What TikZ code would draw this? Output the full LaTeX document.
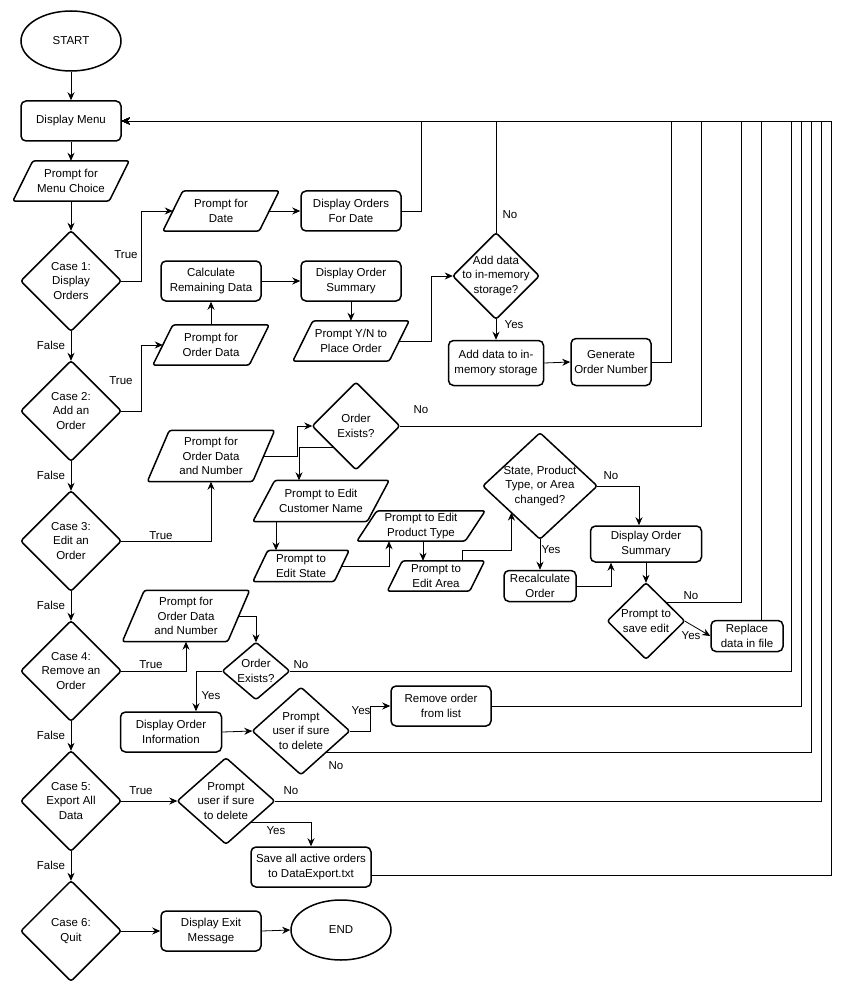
\documentclass[tikz,border=0pt]{standalone}
\usepackage{fontspec}
\setmainfont{Liberation Sans}
\usetikzlibrary{shapes.geometric,arrows.meta,calc}
\newcommand\dfont{\fontsize{11.5}{14.5}\selectfont}
\tikzset{
 base/.style={font=\dfont, align=center, inner sep=0pt},
 box/.style={base, draw, line width=1.5pt, rounded corners=5pt},
 ell/.style={base, draw, ellipse, line width=1.5pt, minimum width=100pt, minimum height=60pt},
 hid/.style={base},
 sh/.style={line width=1.5pt, line join=round, rounded corners=2.5pt},
 con/.style={line width=0.8pt,-{Stealth[length=8pt,width=7pt]}},
 lab/.style={font=\dfont, inner sep=0pt}
}
\begin{document}
\begin{tikzpicture}[x=1pt,y=-1pt]
\fill[white] (0,0) rectangle (850,992);
\useasboundingbox (0,0) rectangle (850,992);
% nodes
\node[ell] (start) at (71,41) {START};
\node[box,minimum width=100pt,minimum height=40pt] (menu) at (71,121) {Display Menu};
\node[hid,minimum width=116pt,minimum height=40pt] (pmc) at (71,181) {Prompt for\\Menu Choice};
\node[hid,minimum width=100pt,minimum height=100pt] (c1) at (71,281) {Case 1:\\Display\\Orders};
\node[hid,minimum width=100pt,minimum height=100pt] (c2) at (71,411) {Case 2:\\Add an\\Order};
\node[hid,minimum width=100pt,minimum height=100pt] (c3) at (71,541) {Case 3:\\Edit an\\Order};
\node[hid,minimum width=100pt,minimum height=100pt] (c4) at (71,671) {Case 4:\\Remove an\\Order};
\node[hid,minimum width=100pt,minimum height=100pt] (c5) at (71,801) {Case 5:\\Export All\\Data};
\node[hid,minimum width=100pt,minimum height=100pt] (c6) at (71,931) {Case 6:\\Quit};
\node[hid,minimum width=116pt,minimum height=40pt] (pd) at (221,211) {Prompt for\\Date};
\node[box,minimum width=100pt,minimum height=40pt] (dod) at (351,211) {Display Orders\\For Date};
\node[box,minimum width=100pt,minimum height=40pt] (calc) at (211,281) {Calculate\\Remaining Data};
\node[box,minimum width=100pt,minimum height=40pt] (dos) at (351,281) {Display Order\\Summary};
\node[hid,minimum width=116pt,minimum height=40pt] (pod) at (211,345) {Prompt for\\Order Data};
\node[hid,minimum width=116pt,minimum height=40pt] (pyn) at (351,341) {Prompt Y/N to\\Place Order};
\node[hid,minimum width=86pt,minimum height=86pt] (add) at (496,276) {Add data\\to in-memory\\storage?};
\node[box,minimum width=95pt,minimum height=45pt] (adb) at (496,363) {Add data to in-\\memory storage};
\node[box,minimum width=80pt,minimum height=47pt] (gen) at (611,362) {Generate\\Order Number};
\node[hid,minimum width=127pt,minimum height=51pt] (podn) at (211,456) {Prompt for\\Order Data\\and Number};
\node[hid,minimum width=87pt,minimum height=87pt] (oe) at (356,426) {Order\\Exists?};
\node[hid,minimum width=136pt,minimum height=41pt] (pcn) at (321,501) {Prompt to Edit\\Customer Name};
\node[hid,minimum width=96pt,minimum height=31pt] (pes) at (301,566) {Prompt to\\Edit State};
\node[hid,minimum width=128pt,minimum height=30pt] (ppt) at (421,526) {Prompt to Edit\\Product Type};
\node[hid,minimum width=97pt,minimum height=30pt] (pea) at (436,576) {Prompt to\\Edit Area};
\node[hid,minimum width=114pt,minimum height=106pt] (st) at (540,486) {State, Product\\Type, or Area\\changed?};
\node[box,minimum width=111pt,minimum height=36pt] (dos2) at (646,544) {Display Order\\Summary};
\node[box,minimum width=72pt,minimum height=31pt] (rec) at (540,586) {Recalculate\\Order};
\node[hid,minimum width=77pt,minimum height=76pt] (save) at (646,621) {Prompt to\\save edit};
\node[box,minimum width=72pt,minimum height=31pt] (rep) at (747,636) {Replace\\data in file};
\node[hid,minimum width=127pt,minimum height=51pt] (podn2) at (186,616) {Prompt for\\Order Data\\and Number};
\node[hid,minimum width=67pt,minimum height=57pt] (oe2) at (256,671) {Order\\Exists?};
\node[box,minimum width=101pt,minimum height=40pt] (doi) at (171,732) {Display Order\\Information};
\node[hid,minimum width=97pt,minimum height=87pt] (sure1) at (301,731) {Prompt\\user if sure\\to delete};
\node[box,minimum width=100pt,minimum height=40pt] (rem) at (441,706) {Remove order\\from list};
\node[hid,minimum width=97pt,minimum height=86pt] (sure2) at (226,801) {Prompt\\user if sure\\to delete};
\node[box,minimum width=120pt,minimum height=40pt] (sv) at (311,867) {Save all active orders\\to DataExport.txt};
\node[box,minimum width=100pt,minimum height=40pt] (dem) at (211,931) {Display Exit\\Message};
\node[ell] (end) at (341,930) {END};
% diamonds
\foreach \n in {c1,c2,c3,c4,c5,c6,add,oe,st,save,oe2,sure1,sure2}
  \draw[sh] (\n.north)--(\n.east)--(\n.south)--(\n.west)--cycle;
% parallelograms
\foreach \n/\s in {pmc/20,pd/20,pod/20,pyn/20,podn/22,pcn/22,pes/15,ppt/20,pea/15,podn2/22}
  \draw[sh] ($(\n.north west)+(\s,0)$)--(\n.north east)--($(\n.south east)+(-\s,0)$)--(\n.south west)--cycle;
% main column
\draw[con] (start.south)--(menu.north);
\draw[con] (menu.south)--(pmc.north);
\draw[con] (pmc.south)--(c1.north);
\draw[con] (c1.south)--(c2.north);
\draw[con] (c2.south)--(c3.north);
\draw[con] (c3.south)--(c4.north);
\draw[con] (c4.south)--(c5.north);
\draw[con] (c5.south)--(c6.north);
% case 1
\draw[con] (c1.east) -- ++(20,0) |- ($(pd.west)+(10,0)$);
\draw[con] ($(pd.east)+(-10,0)$) -- (dod.west);
\draw[con] (dod.east) -| (421,121) -- (menu.east);
% case 2
\draw[con] (c2.east) -- ++(20,0) |- ($(pod.west)+(10,0)$);
\draw[con] (pod.north) -- (calc.south);
\draw[con] (calc.east) -- (dos.west);
\draw[con] (dos.south) -- (pyn.north);
\draw[con] ($(pyn.east)+(-10,0)$) -| (431,276) -- (add.west);
\draw[con] (add.north) -- (496,121) -- (menu.east);
\draw[con] (add.south) -- (adb.north);
\draw[con] (adb.east) -- (gen.west);
\draw[con] (gen.east) -| (671,121) -- (menu.east);
% case 3
\draw[con] (c3.east) -| (podn.south);
\draw[con] ($(podn.east)+(-11,0)$) -| (297,426) -- (oe.west);
\draw[con] (oe.east) -| (701,121) -- (menu.east);
\draw[con] ($(oe.west)!0.5!(oe.south)$) -| ($(pcn.north)+(-22,0)$);
\draw[con] ($(pcn.south)+(-45,0)$) -- ($(pes.north)+(-25,0)$);
\draw[con] ($(pes.east)+(-7,0)$) -| ($(ppt.south)+(-32,0)$);
\draw[con] ($(ppt.south)+(2,0)$) -- ($(pea.north)+(-13,0)$);
\draw[con] ($(pea.north)+(26,0)$) -- ++(0,-10) -| ($(st.west)!0.5!(st.south)$);
\draw[con] (st.east) -| ($(dos2.north)+(-7,0)$);
\draw[con] (st.south) -- (rec.north);
\draw[con] (rec.east) -| ($(dos2.south)+(-35,0)$);
\draw[con] (dos2.south) -- (save.north);
\draw[con] ($(save.north)!0.5!(save.east)$) -| (741,121) -- (menu.east);
\draw[con] (save.east) -- (rep.west);
\draw[con] ($(rep.north)+(14,0)$) -- (761,121) -- (menu.east);
% case 4
\draw[con] (c4.east) -| (podn2.south);
\draw[con] ($(podn2.east)+(-11,0)$) -| (oe2.north);
\draw[con] (oe2.east) -| (791,121) -- (menu.east);
\draw[con] (oe2.west) -| ($(doi.north)+(25,0)$);
\draw[con] (doi.east) -- (sure1.west);
\draw[con] (sure1.east) -- ++(21,0) |- (rem.west);
\draw[con] (rem.east) -| (801,121) -- (menu.east);
\draw[con] ($(sure1.east)!0.5!(sure1.south)$) -| (811,121) -- (menu.east);
% case 5
\draw[con] (c5.east) -- (sure2.west);
\draw[con] (sure2.east) -| (821,121) -- (menu.east);
\draw[con] ($(sure2.east)!0.5!(sure2.south)$) -| (sv.north);
\draw[con] ($(sv.east)+(0,8)$) -| (831,121) -- (menu.east);
% case 6
\draw[con] (c6.east) -- (dem.west);
\draw[con] (dem.east) -- (end.west);
% labels
\node[lab] (t1) at (126,255) {True};
\node[lab] (t2) at (121,381) {True};
\node[lab] (t3) at (161,536) {True};
\node[lab] (t4) at (151,665) {True};
\node[lab] (t5) at (141,791) {True};
\node[lab] (f1) at (51,345) {False};
\node[lab] (f2) at (51,475) {False};
\node[lab] (f3) at (51,605) {False};
\node[lab] (f4) at (51,735) {False};
\node[lab] (f5) at (51,865) {False};
\node[lab] (n1) at (510,215) {No};
\node[lab] (y1) at (514,325) {Yes};
\node[lab] (n2) at (421,410) {No};
\node[lab] (n3) at (611,476) {No};
\node[lab] (y3) at (551,550) {Yes};
\node[lab] (n4) at (691,596) {No};
\node[lab] (y4) at (691,636) {Yes};
\node[lab] (n5) at (301,665) {No};
\node[lab] (y5) at (211,696) {Yes};
\node[lab] (y6) at (361,711) {Yes};
\node[lab] (n6) at (336,766) {No};
\node[lab] (n7) at (291,791) {No};
\node[lab] (y7) at (276,831) {Yes};
\end{tikzpicture}
\end{document}
